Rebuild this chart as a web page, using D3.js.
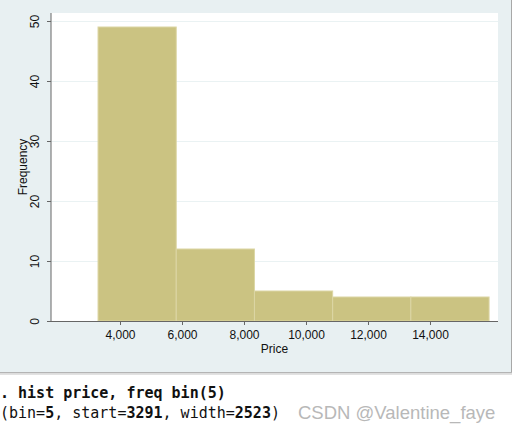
<!DOCTYPE html>
<html>
<head>
<meta charset="utf-8">
<script src="https://cdn.jsdelivr.net/npm/d3@7"></script>
<style>
  body { margin: 0; background: #fff; }
  svg text { font-family: "Liberation Sans", Arial, sans-serif; }
  .mono { font-family: "DejaVu Sans Mono", monospace; font-size: 15px; fill: #111; }
</style>
</head>
<body>
<div id="chart"></div>
<script>
// hist price, freq bin(5)
var binStart = 3291
var binWidth = 2523
var counts = [49, 12, 5, 4, 4]
var xTicks = [4000, 6000, 8000, 10000, 12000, 14000]
var yTicks = [0, 10, 20, 30, 40, 50]

var width = 512, height = 431

var plot = {left: 51, right: 498, top: 13, bottom: 321}

var svg = d3.select("#chart").append("svg")
  .attr("width", width)
  .attr("height", height)

// stata graph region
svg.append("rect")
  .attr("x", 0).attr("y", 0)
  .attr("width", 511).attr("height", 372)
  .attr("fill", "#e8f0f2")
svg.append("line")
  .attr("x1", 511.5).attr("x2", 511.5).attr("y1", 0).attr("y2", 373)
  .attr("stroke", "#a8a8a8")
svg.append("rect")
  .attr("x", 0).attr("y", 372)
  .attr("width", 512).attr("height", 1.5)
  .attr("fill", "#b4b4b4")
svg.append("rect")
  .attr("x", 0).attr("y", 373.5)
  .attr("width", 512).attr("height", 1.5)
  .attr("fill", "#e2e2e2")

// plot region
svg.append("rect")
  .attr("x", plot.left).attr("y", plot.top)
  .attr("width", plot.right - plot.left).attr("height", plot.bottom - plot.top)
  .attr("fill", "#ffffff")

var x = d3.scaleLinear().domain([1774, 16194]).range([plot.left, plot.right])
var y = d3.scaleLinear().domain([0, 50]).range([plot.bottom, 21])

// grid
svg.append("g").selectAll("line")
  .data(yTicks.slice(1))
  .enter().append("line")
    .attr("x1", plot.left).attr("x2", plot.right)
    .attr("y1", function(d) { return y(d) + 0.5 })
    .attr("y2", function(d) { return y(d) + 0.5 })
    .attr("stroke", "#eaf2f3")
    .attr("stroke-width", 1)

// bars
svg.append("g").selectAll("rect")
  .data(counts)
  .enter().append("rect")
    .attr("x", function(d, i) { return x(binStart + i * binWidth) })
    .attr("width", function(d, i) { return x(binStart + (i + 1) * binWidth) - x(binStart + i * binWidth) })
    .attr("y", function(d) { return y(d) })
    .attr("height", function(d) { return y(0) - y(d) })
    .attr("fill", "#cbc382")
    .attr("stroke", "#dcd6a4")
    .attr("stroke-width", 1)

// y axis
var yAxis = svg.append("g")
  .attr("transform", "translate(" + plot.left + ",0)")
  .call(d3.axisLeft(y).tickValues(yTicks).tickSize(4).tickPadding(0).tickFormat(d3.format("d")))
yAxis.select(".domain").attr("stroke", "#666").attr("d", "M0," + plot.top + "V" + (plot.bottom + 0.5))
yAxis.selectAll(".tick line").attr("stroke", "#666")
yAxis.selectAll(".tick text")
  .attr("x", 0).attr("dy", 0)
  .attr("transform", "translate(-12,0) rotate(-90)")
  .attr("text-anchor", "middle")
  .attr("font-size", 12)
  .attr("font-family", "Liberation Sans, Arial, sans-serif")
  .attr("fill", "#111")

// x axis
var xAxis = svg.append("g")
  .attr("transform", "translate(0," + plot.bottom + ")")
  .call(d3.axisBottom(x).tickValues(xTicks).tickSize(4).tickPadding(5).tickFormat(d3.format(",")))
xAxis.select(".domain").attr("stroke", "#666").attr("d", "M" + plot.left + ",0.5H" + plot.right)
xAxis.selectAll(".tick line").attr("stroke", "#666")
xAxis.selectAll(".tick text")
  .attr("font-size", 12)
  .attr("font-family", "Liberation Sans, Arial, sans-serif")
  .attr("fill", "#111")

svg.append("text")
  .attr("x", (plot.left + plot.right) / 2)
  .attr("y", 353)
  .attr("text-anchor", "middle")
  .attr("font-size", 12)
  .attr("fill", "#111")
  .text("Price")

svg.append("text")
  .attr("transform", "translate(27," + ((plot.bottom + 21) / 2 - 4) + ") rotate(-90)")
  .attr("text-anchor", "middle")
  .attr("font-size", 12)
  .attr("fill", "#111")
  .text("Frequency")

// stata console lines
svg.append("text")
  .attr("class", "mono")
  .attr("x", 0).attr("y", 398)
  .attr("font-weight", "bold")
  .text(". hist price, freq bin(5)")

var line2 = svg.append("text")
  .attr("class", "mono")
  .attr("x", 0).attr("y", 418)
var parts = [["(bin=", false], ["5", true], [", start=", false], ["3291", true], [", width=", false], ["2523", true], [")", false]]
parts.forEach(function(p) {
  line2.append("tspan")
    .attr("font-weight", p[1] ? "bold" : "normal")
    .text(p[0])
})

svg.append("text")
  .attr("x", 298).attr("y", 419)
  .attr("font-size", 18.5)
  .attr("fill", "#b8b8b8")
  .text("CSDN @Valentine_faye")
</script>
</body>
</html>
